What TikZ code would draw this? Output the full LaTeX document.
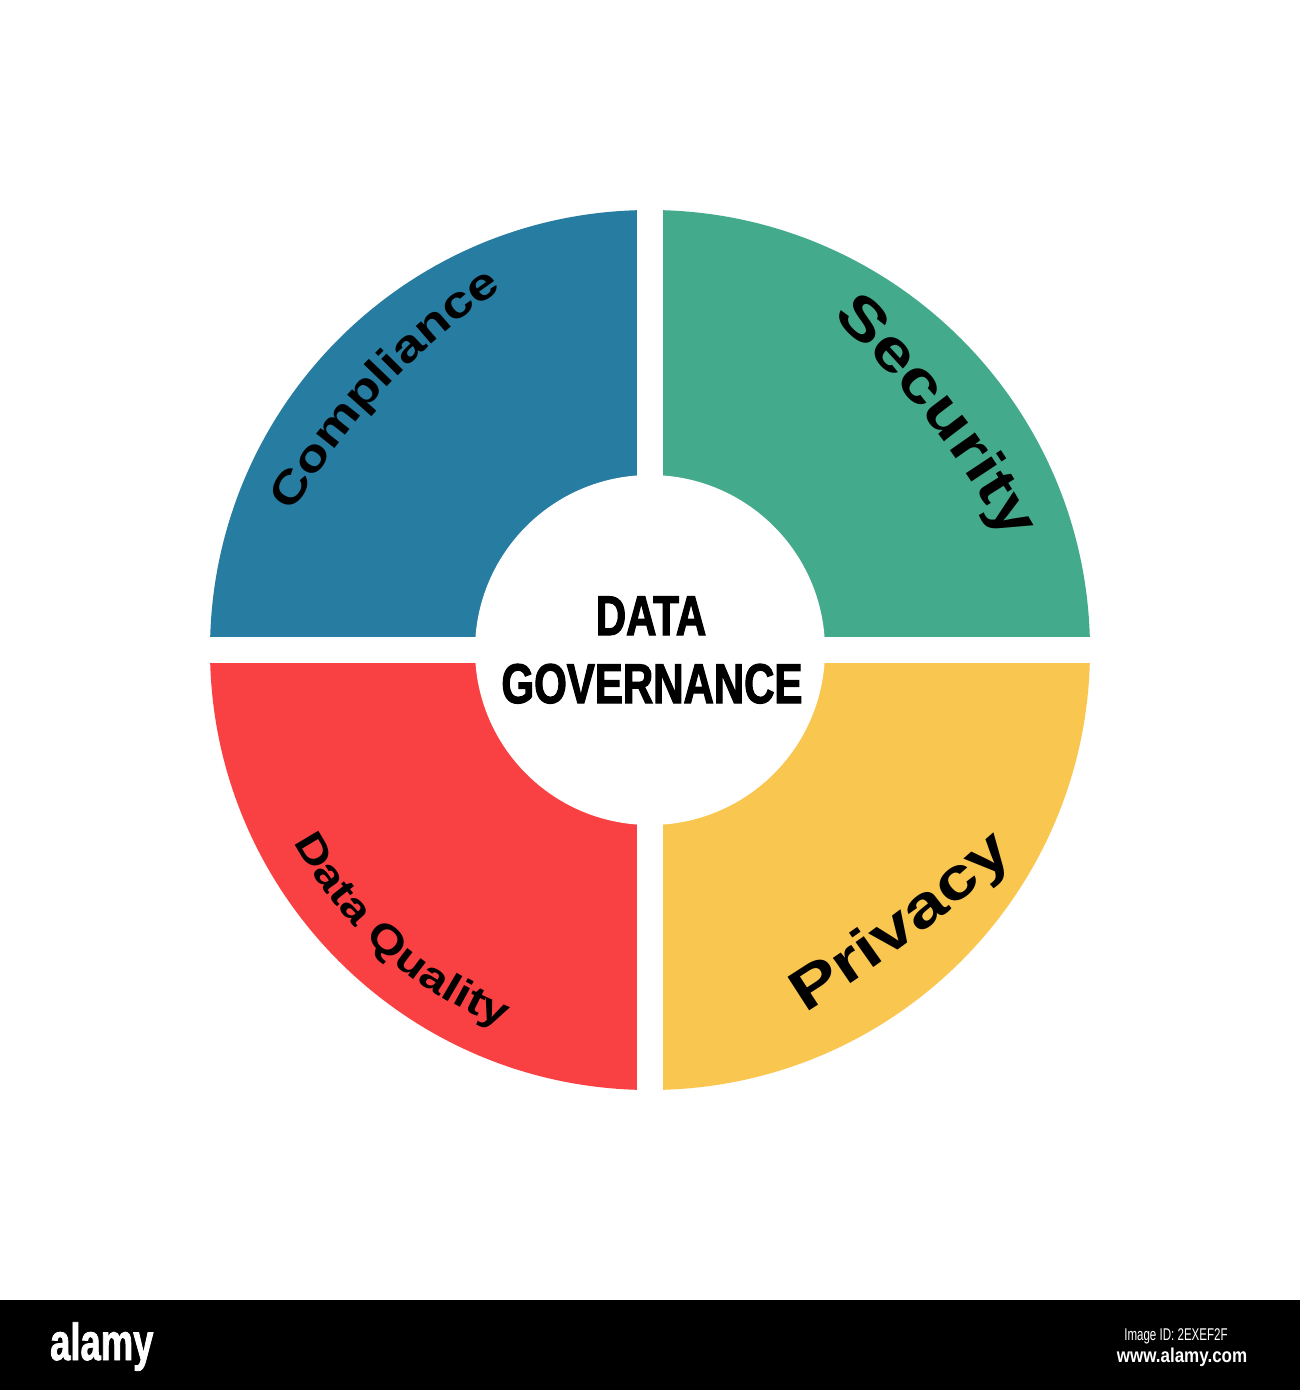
\documentclass[tikz,border=0pt]{standalone}
\usepackage{fontspec}
\setmainfont{Liberation Sans}
\usetikzlibrary{decorations.text,calc}
\newfontfamily\fComp[FakeStretch=1.24]{Liberation Sans}
\newfontfamily\fSec[FakeStretch=1.25]{Liberation Sans}
\newfontfamily\fDQ[FakeStretch=1.22]{Liberation Sans}
\newfontfamily\fPriv[FakeStretch=1.27]{Liberation Sans}
\newfontfamily\fTitle[FakeStretch=0.75,FakeBold=2]{Liberation Sans}
\newfontfamily\fLogo[FakeStretch=0.7,FakeBold=1.5]{Liberation Sans}
\newfontfamily\fFoot[FakeStretch=0.68]{Liberation Sans}
\newfontfamily\fWww[FakeStretch=0.85]{Liberation Sans}
\newcommand\compfmt{\fComp\bfseries\fontsize{44}{44}\selectfont}
\newcommand\secfmt{\fSec\bfseries\fontsize{58}{58}\selectfont}
\newcommand\dqfmt{\fDQ\bfseries\fontsize{40}{40}\selectfont}
\newcommand\privfmt{\fPriv\bfseries\fontsize{58}{58}\selectfont}
\definecolor{qblue}{HTML}{277DA1}
\definecolor{qgreen}{HTML}{43AA8B}
\definecolor{qred}{HTML}{F94144}
\definecolor{qyellow}{HTML}{F9C74F}
\tikzset{
  titletext/.style={inner sep=0pt, anchor=base, font=\fTitle\bfseries\fontsize{56}{56}\selectfont},
  arclabel/.style={decorate, decoration={text along path, text align=center, text={#1}}}
}
\begin{document}
\begin{tikzpicture}[x=1pt,y=1pt]
\fill[white] (0,0) rectangle (1300,-1390);
\useasboundingbox (0,0) rectangle (1300,-1390);
\coordinate (O) at (650,-650);
% quadrants
\begin{scope}\clip (0,0) rectangle (650,-650); \fill[qblue] (O) circle[radius=440]; \end{scope}
\begin{scope}\clip (650,0) rectangle (1300,-650); \fill[qgreen] (O) circle[radius=440]; \end{scope}
\begin{scope}\clip (0,-650) rectangle (650,-1300); \fill[qred] (O) circle[radius=440]; \end{scope}
\begin{scope}\clip (650,-650) rectangle (1300,-1300); \fill[qyellow] (O) circle[radius=440]; \end{scope}
\fill[white] (O) circle[radius=175];
\fill[white] (637,-150) rectangle (663,-1150);
\fill[white] (150,-637) rectangle (1150,-663);
% centre title
\node[titletext] (t1) at (651,-635) {DATA};
\node[titletext] (t2) at (652,-703) {GOVERNANCE};
% curved labels
\path[arclabel={|\compfmt|Compliance}] ($(385,-389)+(-43.1:700)+(151.9:700)$) arc[start angle=151.9, end angle=121.9, radius=700];
\path[arclabel={|\secfmt|Security}] ($(929,-422)+(-142.1:900)+(49.9:900)$) arc[start angle=49.9, end angle=25.9, radius=900];
\path[arclabel={|\dqfmt|Data Quality}] ($(O)+(200:405)$) arc[start angle=200, end angle=257, radius=405];
\path[arclabel={|\privfmt|Privacy}] ($(913,-939)+(126.9:1500)+(-59.1:1500)$) arc[start angle=-59.1, end angle=-47.1, radius=1500];
% footer bar
\fill[black] (0,-1300) rectangle (1300,-1390);
\node[inner sep=0pt, anchor=base west, text=white, font=\fLogo\bfseries\fontsize{52}{52}\selectfont] (logo) at (50,-1360) {alamy};
\node[inner sep=0pt, anchor=base, text=white, font=\fFoot\fontsize{17}{17}\selectfont] (imgid) at (1176,-1340) {Image ID: 2EXEF2F};
\node[inner sep=0pt, anchor=base, text=white, font=\fWww\bfseries\fontsize{20}{20}\selectfont] (www) at (1182,-1362) {www.alamy.com};
\end{tikzpicture}
\end{document}
